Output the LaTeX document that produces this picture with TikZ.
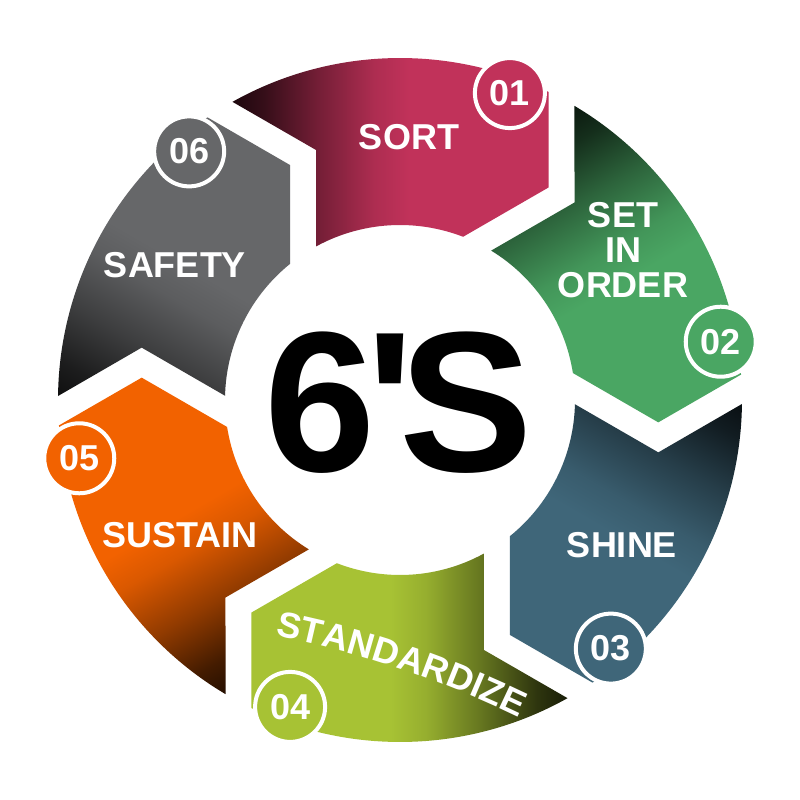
\documentclass[tikz,border=0pt]{standalone}
\usepackage{fontspec}
\newfontfamily\labfont{Liberation Sans}
\newfontfamily\bigfont{Liberation Sans}[Ligatures=TeXOff]
\usetikzlibrary{decorations.text}
\definecolor{csort}{HTML}{C1325A}
\definecolor{cset}{HTML}{4AA663}
\definecolor{cshine}{HTML}{3F6679}
\definecolor{cstd}{HTML}{A7C234}
\definecolor{csus}{HTML}{F26200}
\definecolor{csaf}{HTML}{666769}
\newcommand\mkshade[1]{%
  \pgfdeclarehorizontalshading{sh#1}{100bp}{%
    color(0bp)=(#1!15!black); color(25bp)=(#1!15!black);
    color(30bp)=(#1!28!black); color(38.5bp)=(#1!60!black);
    color(47.5bp)=(#1!90!black); color(53bp)=(#1); color(100bp)=(#1)}}
\mkshade{csort}\mkshade{cset}\mkshade{cshine}\mkshade{cstd}\mkshade{csus}\mkshade{csaf}
\tikzset{
  seg/.style={shading=sh#1},
  numcirc/.style={circle, fill=#1, draw=white, line width=4pt, minimum size=70pt,
    inner sep=0pt, text=white, font=\labfont\bfseries\fontsize{36}{36}\selectfont},
  lab/.style={text=white, font=\labfont\bfseries\fontsize{36}{35}\selectfont,
    inner sep=0pt, align=center},
}
\begin{document}
\begin{tikzpicture}[x=1pt,y=1pt]
\fill[white] (-400,-400) rectangle (400,400);
\useasboundingbox (-400,-400) rectangle (400,400);
\foreach \k/\c in {0/csort,1/cset,2/cshine,3/cstd,4/csus,5/csaf}{
  \begin{scope}[transform canvas={rotate=-60*\k}]
    \shade[seg=\c] (119.33:342) arc[start angle=119.33, end angle=64.26, radius=342]
      -- (148.5,212.5) -- (68.86:175) arc[start angle=68.86, end angle=118.61, radius=175]
      -- (-83.8,249.9) -- cycle;
  \end{scope}
}
% labels
\node[lab, anchor=base] (sort) at (9,250) {SORT};
\node[lab] (setin) at (223,150) {SET\\IN\\ORDER};
\node[lab, anchor=base] (shine) at (222,-157) {SHINE};
\node[lab, anchor=base] (sustain) at (-220,-147) {SUSTAIN};
\node[lab, anchor=base] (safety) at (-225,122) {SAFETY};
\path[decorate, decoration={text along path,
    text={|\labfont\bfseries\fontsize{36}{36}\selectfont|STANDARDIZE},
    text align=center, text color=white}]
  (0,-269) ++(-108.5:1000) ++(78.9:1000) arc[start angle=78.9, end angle=64.1, radius=1000];
% number circles
\node[numcirc=csort] (n1) at (70.3:326) {01};
\node[numcirc=cset] (n2) at (10.3:326) {02};
\node[numcirc=cshine] (n3) at (-49.7:326) {03};
\node[numcirc=cstd] (n4) at (-109.7:326) {04};
\node[numcirc=csus] (n5) at (-169.7:326) {05};
\node[numcirc=csaf] (n6) at (130.3:326) {06};
% centre title
\node[anchor=base west, inner sep=0pt, text=black,
  font=\bigfont\bfseries\fontsize{200}{200}\selectfont] (six) at (-136,-71) {6\kern-9pt'\kern-14pt S};
\end{tikzpicture}
\end{document}
